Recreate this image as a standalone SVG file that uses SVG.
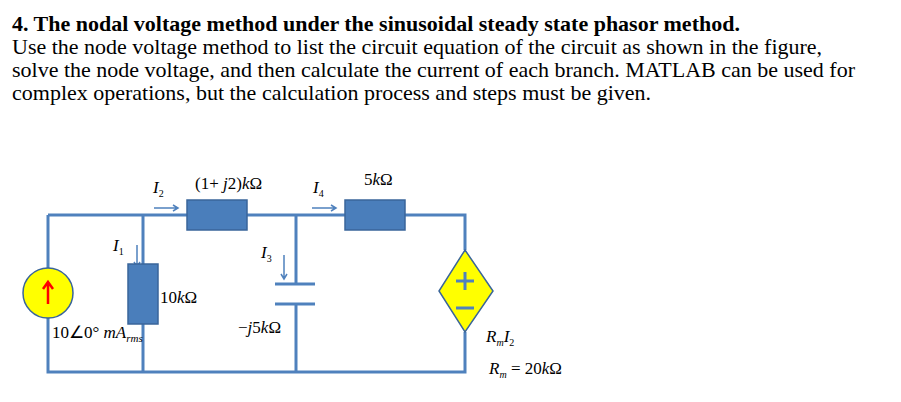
<svg xmlns="http://www.w3.org/2000/svg" width="901" height="402" viewBox="0 0 901 402">
<defs>
<style>
.w{stroke:#4f81bd;stroke-width:3;fill:none}
.r{fill:#4a7ebb;stroke:#3a659a;stroke-width:1.5}
.t{font-family:"Liberation Serif","Times New Roman",serif;font-size:22px;fill:#000}
.l{font-family:"Liberation Serif","Times New Roman",serif;font-size:17px;font-style:italic;fill:#000}
.n{font-family:"Liberation Serif","Times New Roman",serif;font-size:17px;fill:#000}
.a{stroke:#4f81bd;stroke-width:1.5;fill:none}
</style>
</defs>
<rect width="901" height="402" fill="#fff"/>
<text class="t" x="12" y="31" font-weight="bold">4. The nodal voltage method under the sinusoidal steady state phasor method.</text>
<text class="t" x="12" y="54">Use the node voltage method to list the circuit equation of the circuit as shown in the figure,</text>
<text class="t" x="12" y="77">solve the node voltage, and then calculate the current of each branch. MATLAB can be used for</text>
<text class="t" x="12" y="100">complex operations, but the calculation process and steps must be given.</text>
<g id="connectors">
<path class="w" d="M48 215H465V250M465 332V372H48V215M143 215V372M296 215V284M296 304V372"/>
<path class="a" d="M154 208h24m-5-3l5 3-5 3M312 208h24m-5-3l5 3-5 3M137 245v22m-3-5l3 5 3-5M284 255v24m-3-5l3 5 3-5"/>
</g>
<g id="source"><circle cx="48" cy="293" r="25" fill="#ffff00" stroke="#3a659a" stroke-width="1.5"/><path d="M48 304V283M43 289l5-7 5 7" stroke="#ff0000" stroke-width="2.5" fill="none"/><text class="n" x="52" y="338">10∠0°  <tspan font-style="italic">mA</tspan><tspan font-style="italic" font-size="11" dy="4">rms</tspan></text></g>
<g id="r10k"><rect class="r" x="128" y="264" width="30" height="60"/><text class="n" x="160" y="303">10<tspan font-style="italic">k</tspan>Ω</text><text class="l" x="113" y="251">I<tspan font-size="10" dy="4" font-style="normal">1</tspan></text></g>
<g id="z12"><rect class="r" x="187" y="200" width="60" height="30"/><text class="n" x="195" y="189">(1+ <tspan font-style="italic">j</tspan>2)<tspan font-style="italic">k</tspan>Ω</text><text class="l" x="153" y="193">I<tspan font-size="10" dy="4" font-style="normal">2</tspan></text></g>
<g id="cap"><path class="w" d="M275 284H315M275 304H315"/><text class="n" x="238" y="333">−<tspan font-style="italic">j</tspan>5<tspan font-style="italic">k</tspan>Ω</text><text class="l" x="261" y="258">I<tspan font-size="10" dy="4" font-style="normal">3</tspan></text></g>
<g id="r5k"><rect class="r" x="345" y="200" width="60" height="30"/><text class="n" x="364" y="185">5<tspan font-style="italic">k</tspan>Ω</text><text class="l" x="313" y="193">I<tspan font-size="10" dy="4" font-style="normal">4</tspan></text></g>
<g id="vcvs"><path d="M465 250L493 291L465 332L439 291Z" fill="#ffff00" stroke="#3a659a" stroke-width="1.5"/><path class="w" d="M465 272V290M456 281H474M456 308H474"/><text class="l" x="486" y="342">R<tspan font-size="10" dy="4">m</tspan><tspan dy="-4">I</tspan><tspan font-size="10" dy="4" font-style="normal">2</tspan></text><text class="n" x="489" y="374"><tspan font-style="italic">R</tspan><tspan font-size="10" dy="4" font-style="italic">m</tspan><tspan dy="-4"> = 20</tspan><tspan font-style="italic">k</tspan>Ω</text></g>
</svg>
